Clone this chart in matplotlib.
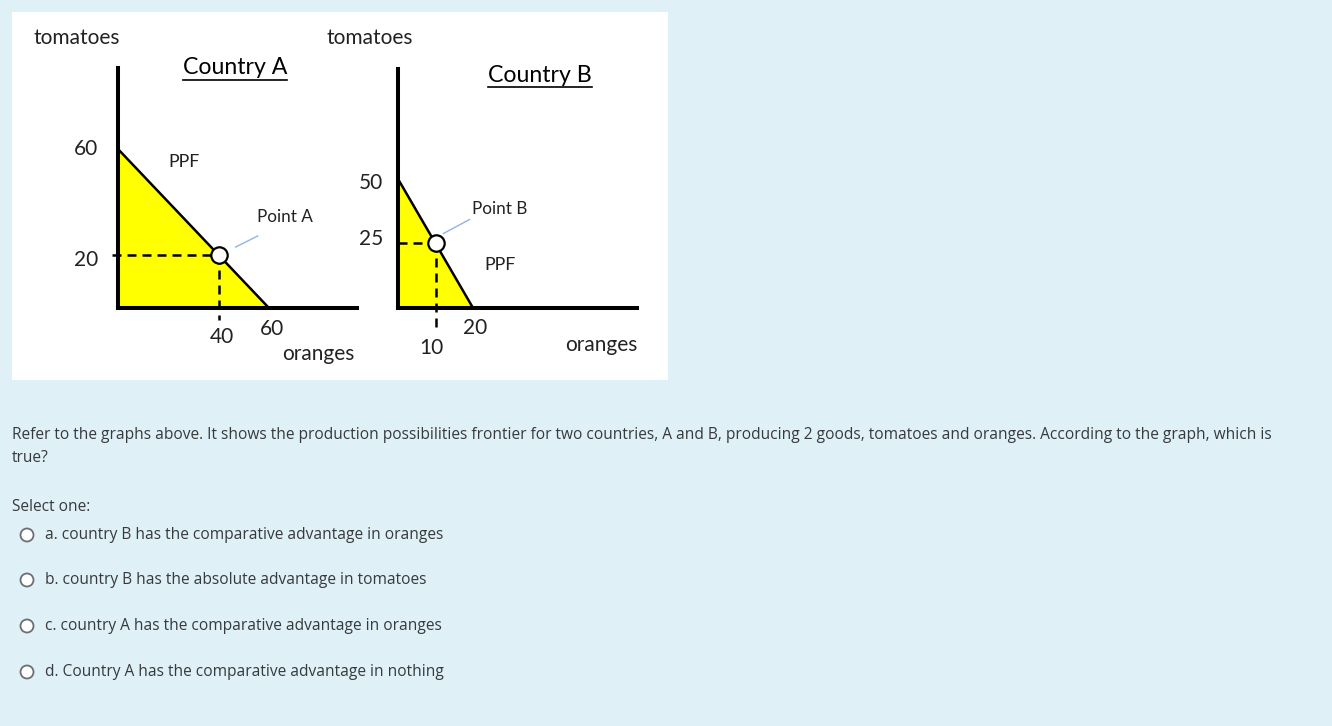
import numpy as np
import matplotlib
matplotlib.use("Agg")
import matplotlib.pyplot as plt
from matplotlib.lines import Line2D
from matplotlib.patches import Rectangle, Circle

W, H = 1332, 726

# ---- data -------------------------------------------------------------
ppf_a = [60, 60]          # max tomatoes, max oranges for Country A
point_a = [40, 20]        # (oranges, tomatoes)
ppf_b = [50, 20]          # max tomatoes, max oranges for Country B
point_b = [10, 25]

question = ("Refer to the graphs above. It shows the production possibilities frontier "
            "for two countries, A and B, producing 2 goods, tomatoes and oranges. "
            "According to the graph, which is")
options = [
    "a. country B has the comparative advantage in oranges",
    "b. country B has the absolute advantage in tomatoes",
    "c. country A has the comparative advantage in oranges",
    "d. Country A has the comparative advantage in nothing",
]

BG = "#dff0f7"
TXT = "#373a3c"
YELLOW = "#ffff00"
LEADER = "#8eb4e3"
CHART_FONT = "Lato"
Q_FONT = "Open Sans"
LBL = 15


def fx(x):
    return x / W


def fy(y):
    return 1 - y / H


fig = plt.figure(figsize=(W / 100, H / 100), dpi=100)
fig.patch.set_facecolor(BG)
fig.patches.append(Rectangle((fx(12), fy(380)), fx(656), (380 - 12) / H,
                             transform=fig.transFigure, facecolor="white",
                             edgecolor="none", zorder=-10))


def ppf_axes(rect, xmax, ymax, ppf, pt, overshoot, ylabels, xlabels, pt_label,
             ppf_label, title, title_xy):
    x0, y0, x1, y1 = rect
    ax = fig.add_axes([fx(x0), fy(y0), fx(x1 - x0), (y0 - y1) / H])
    ax.set_xlim(0, xmax)
    ax.set_ylim(0, ymax)
    ax.patch.set_alpha(0)
    for s in ["top", "right"]:
        ax.spines[s].set_visible(False)
    for s in ["left", "bottom"]:
        ax.spines[s].set_linewidth(2.9)
        ax.spines[s].set_zorder(5)
        ax.spines[s].set_capstyle("projecting")
    ax.set_xticks([])
    ax.set_yticks([])

    ymax_ppf, xmax_ppf = ppf
    ax.fill_between([0, xmax_ppf], [ymax_ppf, 0], 0, color=YELLOW, lw=0, zorder=1)
    ax.plot([0, xmax_ppf], [ymax_ppf, 0], color="black", lw=1.8, zorder=3)

    # dashed guides, overshooting the axes by a few pixels
    ox = overshoot[0] * xmax / (x1 - x0)
    oy = overshoot[1] * ymax / (y0 - y1)
    ax.plot([-ox, pt[0]], [pt[1], pt[1]], color="black", lw=1.8,
            ls=(0, (3.6, 2.4)), clip_on=False, zorder=2)
    ax.plot([pt[0], pt[0]], [pt[1], -oy], color="black", lw=1.8,
            ls=(0, (3.6, 2.4)), clip_on=False, zorder=2)
    ax.plot([pt[0]], [pt[1]], "o", ms=11.8, mfc="white", mec="black",
            mew=1.6, zorder=6, clip_on=False)

    for val, dx, dy in ylabels:
        ax.annotate(str(val), xy=(0, val), xytext=(dx, dy),
                    textcoords="offset pixels", ha="center", va="center",
                    fontsize=LBL, family=CHART_FONT, color="#222222")
    for val, dx, dy in xlabels:
        ax.annotate(str(val), xy=(val, 0), xytext=(dx, dy),
                    textcoords="offset pixels", ha="center", va="center",
                    fontsize=LBL, family=CHART_FONT, color="#222222")

    # leader line and label for the point
    fig.canvas.draw()
    px, py = ax.transData.transform(pt)
    (lx0, ly0), (lx1, ly1), (tx, ty) = pt_label[1]
    fig.add_artist(Line2D([px + lx0, px + lx1], [py + ly0, py + ly1],
                          transform=None, color=LEADER, lw=1.0))
    fig.text((px + tx) / W, (py + ty) / H, pt_label[0], ha="center", va="center",
             fontsize=12.3, family=CHART_FONT, color="#222222")
    fig.text(fx(ppf_label[0]), fy(ppf_label[1]), "PPF", ha="center", va="center",
             fontsize=12.8, family=CHART_FONT, color="#222222")

    t = fig.text(fx(title_xy[0]), fy(title_xy[1]), title, ha="center",
                 va="center", fontsize=16.7, family=CHART_FONT, color="black")
    bb = t.get_window_extent(fig.canvas.get_renderer())
    uy = bb.y0 - 1
    fig.add_artist(Line2D([bb.x0, bb.x1], [uy, uy], transform=None,
                          color="black", lw=1.2))
    return ax


ppf_axes((118, 308, 357, 68), 95, 90.6, ppf_a, point_a, overshoot=(6, 12),
         ylabels=[(60, -32, 0), (20, -32, -5)],
         xlabels=[(40, 3, -29), (60, 3, -21)],
         pt_label=("Point A", ((17, 8), (39, 19), (66, 38))),
         ppf_label=(184, 162), title="Country A", title_xy=(235, 68))

ppf_axes((398, 308, 637, 69), 63.7, 92.6, ppf_b, point_b, overshoot=(0, 20),
         ylabels=[(50, -27, -4), (25, -27, 4)],
         xlabels=[(10, -4, -40), (20, 2, -20)],
         pt_label=("Point B", ((8, 10), (34, 24), (64, 34))),
         ppf_label=(500, 265), title="Country B", title_xy=(540, 75))

for x, y, s in [(77, 38, "tomatoes"), (370, 38, "tomatoes"),
                (318, 354, "oranges"), (601, 345, "oranges")]:
    fig.text(fx(x), fy(y), s, ha="center", va="center", fontsize=LBL,
             family=CHART_FONT, color="#222222")

# ---- question text ----------------------------------------------------
QS = 11.2
fig.text(fx(12), fy(435), question, ha="left", va="center", fontsize=QS,
         family=Q_FONT, color=TXT)
fig.text(fx(12), fy(458), "true?", ha="left", va="center", fontsize=QS,
         family=Q_FONT, color=TXT)
fig.text(fx(12), fy(507), "Select one:", ha="left", va="center", fontsize=QS,
         family=Q_FONT, color=TXT)
opt_y = [535, 580, 626, 672]
for y, s in zip(opt_y, options):
    fig.patches.append(Circle((27, H - y), 6.5, transform=None, facecolor="white",
                              edgecolor="#6b6f73", lw=1.3))
    fig.text(fx(45), fy(y), s, ha="left", va="center", fontsize=QS,
             family=Q_FONT, color=TXT)

fig.savefig("out.png", dpi=100, facecolor=BG)
